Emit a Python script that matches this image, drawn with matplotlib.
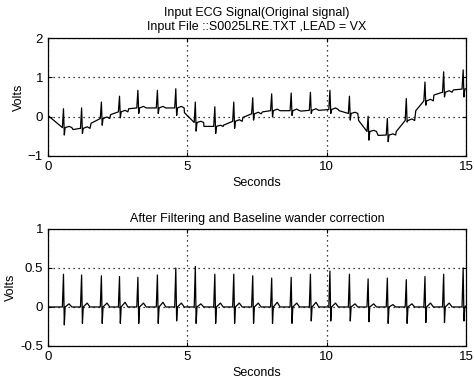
import numpy as np
import matplotlib
matplotlib.use("Agg")
import matplotlib.pyplot as plt

plt.rcParams['font.family'] = ['Liberation Sans', 'DejaVu Sans']

# beat (R peak) times in seconds
beat_t = [0.56, 1.21, 1.92, 2.57, 3.23, 3.93, 4.59, 5.29, 5.99, 6.67, 7.35,
          8.03, 8.73, 9.42, 10.12, 10.82, 11.49, 12.18, 12.86, 13.53, 14.20, 14.90]

# original signal: baseline at each beat, R top and S bottom (absolute volts)
top_base = [-0.28, -0.30, -0.05, 0.12, 0.22, 0.22, 0.22, -0.15, -0.25, -0.12, 0.07,
            0.15, 0.15, 0.16, 0.18, 0.08, -0.38, -0.47, -0.10, 0.40, 0.62, 0.70]
top_r = [0.20, 0.22, 0.37, 0.52, 0.67, 0.67, 0.71, 0.37, 0.25, 0.37, 0.48,
         0.58, 0.60, 0.62, 0.67, 0.52, 0.01, -0.05, 0.46, 0.88, 1.14, 1.19]
top_s = [-0.47, -0.43, -0.22, -0.03, 0.08, 0.08, 0.03, -0.37, -0.43, -0.30, -0.09,
         -0.01, 0.03, 0.08, 0.08, -0.09, -0.60, -0.64, -0.14, 0.29, 0.50, 0.50]
top_twave = [0.03, 0.04, 0.04, 0.04, 0.04, 0.04, 0.04, 0.03, 0.03, 0.04, 0.04,
             0.04, 0.04, 0.04, 0.04, 0.03, 0.03, 0.03, 0.04, 0.04, 0.04, 0.04]
# baseline wander between beats
wander_t = [0.00, 0.25, 0.90, 1.55, 2.25, 2.90, 3.55, 4.25, 4.90, 5.60, 6.30, 7.00,
            7.70, 8.40, 9.10, 9.75, 10.45, 11.15, 11.85, 12.50, 13.20, 13.85, 14.55]
wander_v = [0.03, -0.12, -0.33, -0.17, 0.05, 0.20, 0.22, 0.22, 0.10, -0.25, -0.22, -0.02,
            0.12, 0.15, 0.14, 0.16, 0.15, -0.10, -0.48, -0.38, 0.15, 0.55, 0.68]

# filtered signal
bot_r = [0.42, 0.41, 0.40, 0.39, 0.38, 0.41, 0.50, 0.52, 0.42, 0.42, 0.40,
         0.37, 0.38, 0.42, 0.46, 0.42, 0.36, 0.37, 0.35, 0.39, 0.42, 0.50]
bot_s = [-0.23, -0.21, -0.21, -0.21, -0.21, -0.21, -0.18, -0.21, -0.21, -0.21, -0.21,
         -0.21, -0.21, -0.18, -0.18, -0.18, -0.19, -0.21, -0.21, -0.20, -0.20, -0.18]
bot_twave = [0.04, 0.05, 0.05, 0.06, 0.05, 0.06, 0.05, 0.04, 0.05, 0.05, 0.05,
             0.06, 0.05, 0.06, 0.05, 0.04, 0.04, 0.03, 0.04, 0.05, 0.05, 0.05]


def build_trace(base, r, s, tw, knot_t, knot_v):
    pts = list(zip(knot_t, knot_v))
    for t, b, rv, sv, w in zip(beat_t, base, r, s, tw):
        pts += [(t - 0.04, b), (t, rv), (t + 0.03, sv), (t + 0.06, b),
                (t + 0.20, b + w), (t + 0.30, b)]
    pts.sort()
    x, y = zip(*pts)
    return np.array(x), np.array(y)


fig = plt.figure(figsize=(4.74, 3.81), dpi=100)
ax1 = fig.add_axes([0.101, 0.591, 0.882, 0.309])
ax2 = fig.add_axes([0.101, 0.092, 0.882, 0.307])

x1, y1 = build_trace(top_base, top_r, top_s, top_twave, wander_t, wander_v)
ax1.plot(x1, y1, color='black', linewidth=0.9)
x2, y2 = build_trace([0.0] * len(beat_t), bot_r, bot_s, bot_twave, [0.0], [0.0])
ax2.plot(x2, y2, color='black', linewidth=0.9)

ax1.set_ylim(-1, 2)
ax1.set_yticks([-1, 0, 1, 2])
ax2.set_ylim(-0.5, 1)
ax2.set_yticks([-0.5, 0, 0.5, 1])
ax2.set_yticklabels(['-0.5', '0', '0.5', '1'])

for ax in (ax1, ax2):
    ax.set_xlim(0, 15)
    ax.set_xticks([0, 5, 10, 15])
    ax.grid(True, color='black', linestyle=(0, (1, 3)), linewidth=0.9)
    ax.tick_params(direction='in', length=3, labelsize=9.5, top=True, right=True)
    ax.set_xlabel('Seconds', fontsize=9, labelpad=3)
    ax.set_ylabel('Volts', fontsize=9, labelpad=2)
    for sp in ax.spines.values():
        sp.set_linewidth(0.9)

ax1.set_title('Input ECG Signal(Original signal)\nInput File ::S0025LRE.TXT ,LEAD = VX',
              fontsize=9, pad=6, linespacing=1.15)
ax2.set_title('After Filtering and Baseline wander correction', fontsize=9, pad=5)

fig.savefig('out.png', dpi=100)
